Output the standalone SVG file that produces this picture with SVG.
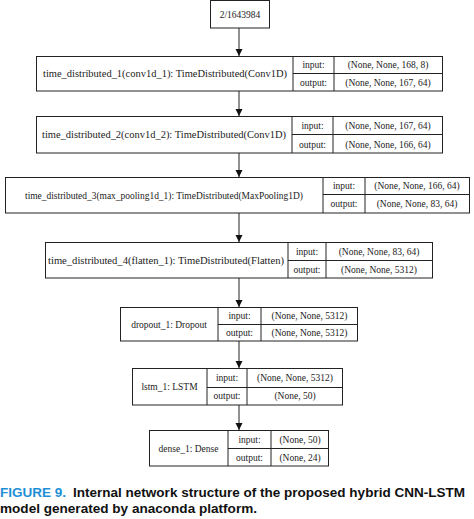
<svg xmlns="http://www.w3.org/2000/svg" width="474" height="519" viewBox="0 0 474 519">
<style>
.box{fill:#fff;stroke:#222;stroke-width:1}
.ln{stroke:#222;stroke-width:1;fill:none}
.t{font-family:"Liberation Serif","DejaVu Serif",serif;font-size:9.5px;fill:#222;text-anchor:middle}
.cap{font-family:"Liberation Sans","Open Sans",sans-serif;font-size:13.5px;font-weight:bold;fill:#111}
.blue{fill:#1e8fd5}
</style>
<defs>
<marker id="arr" markerWidth="8" markerHeight="8" refX="7" refY="4" orient="auto" markerUnits="userSpaceOnUse">
<path d="M0,0.5 L7,4 L0,7.5 Z" fill="#111"/>
</marker>
</defs>
<rect width="474" height="519" fill="#fff"/>
<g id="connectors">
<line class="ln" x1="239" y1="28" x2="239" y2="56" marker-end="url(#arr)"/>
<line class="ln" x1="239" y1="91" x2="239" y2="116" marker-end="url(#arr)"/>
<line class="ln" x1="239" y1="153" x2="239" y2="177" marker-end="url(#arr)"/>
<line class="ln" x1="239" y1="213" x2="239" y2="242" marker-end="url(#arr)"/>
<line class="ln" x1="239" y1="278" x2="239" y2="307" marker-end="url(#arr)"/>
<line class="ln" x1="239" y1="341" x2="239" y2="368" marker-end="url(#arr)"/>
<line class="ln" x1="239" y1="405" x2="239" y2="430" marker-end="url(#arr)"/>
</g>
<g id="input">
<rect class="box" x="210.5" y="0.5" width="59" height="27.5"/>
<text class="t" x="240" y="18">2/1643984</text>
</g>
<g id="td1">
<rect class="box" x="36.5" y="56.5" width="406" height="34.5"/>
<line class="ln" x1="293" y1="56.5" x2="293" y2="91"/>
<line class="ln" x1="334" y1="56.5" x2="334" y2="91"/>
<line class="ln" x1="293" y1="73.5" x2="442.5" y2="73.5"/>
<text class="t" x="165" y="77" textLength="244" lengthAdjust="spacingAndGlyphs">time_distributed_1(conv1d_1): TimeDistributed(Conv1D)</text>
<text class="t" x="313.5" y="68">input:</text>
<text class="t" x="313.5" y="86">output:</text>
<text class="t" x="388" y="68">(None, None, 168, 8)</text>
<text class="t" x="388" y="86">(None, None, 167, 64)</text>
</g>
<g id="td2">
<rect class="box" x="36.5" y="116.5" width="406" height="36.5"/>
<line class="ln" x1="292" y1="116.5" x2="292" y2="153"/>
<line class="ln" x1="333" y1="116.5" x2="333" y2="153"/>
<line class="ln" x1="292" y1="134.5" x2="442.5" y2="134.5"/>
<text class="t" x="164" y="138" textLength="244" lengthAdjust="spacingAndGlyphs">time_distributed_2(conv1d_2): TimeDistributed(Conv1D)</text>
<text class="t" x="312.5" y="129">input:</text>
<text class="t" x="312.5" y="148">output:</text>
<text class="t" x="388" y="129">(None, None, 167, 64)</text>
<text class="t" x="388" y="148">(None, None, 166, 64)</text>
</g>
<g id="td3">
<rect class="box" x="5.5" y="177.5" width="464" height="35.5"/>
<line class="ln" x1="323" y1="177.5" x2="323" y2="213"/>
<line class="ln" x1="365" y1="177.5" x2="365" y2="213"/>
<line class="ln" x1="323" y1="194.5" x2="469.5" y2="194.5"/>
<text class="t" x="164" y="199" textLength="278" lengthAdjust="spacingAndGlyphs">time_distributed_3(max_pooling1d_1): TimeDistributed(MaxPooling1D)</text>
<text class="t" x="344" y="189">input:</text>
<text class="t" x="344" y="207">output:</text>
<text class="t" x="417" y="189">(None, None, 166, 64)</text>
<text class="t" x="417" y="207">(None, None, 83, 64)</text>
</g>
<g id="td4">
<rect class="box" x="45.5" y="242.5" width="387" height="35.5"/>
<line class="ln" x1="288" y1="242.5" x2="288" y2="278"/>
<line class="ln" x1="326" y1="242.5" x2="326" y2="278"/>
<line class="ln" x1="288" y1="260.5" x2="432.5" y2="260.5"/>
<text class="t" x="166" y="264" textLength="236" lengthAdjust="spacingAndGlyphs">time_distributed_4(flatten_1): TimeDistributed(Flatten)</text>
<text class="t" x="307" y="255">input:</text>
<text class="t" x="307" y="273">output:</text>
<text class="t" x="379" y="255">(None, None, 83, 64)</text>
<text class="t" x="379" y="273">(None, None, 5312)</text>
</g>
<g id="dropout">
<rect class="box" x="120.5" y="307.5" width="237" height="33.5"/>
<line class="ln" x1="218" y1="307.5" x2="218" y2="341"/>
<line class="ln" x1="261" y1="307.5" x2="261" y2="341"/>
<line class="ln" x1="218" y1="324.5" x2="357.5" y2="324.5"/>
<text class="t" x="169" y="328">dropout_1: Dropout</text>
<text class="t" x="239.5" y="319">input:</text>
<text class="t" x="239.5" y="336">output:</text>
<text class="t" x="309.5" y="319">(None, None, 5312)</text>
<text class="t" x="309.5" y="336">(None, None, 5312)</text>
</g>
<g id="lstm">
<rect class="box" x="132.5" y="368.5" width="210" height="36.5"/>
<line class="ln" x1="207" y1="368.5" x2="207" y2="405"/>
<line class="ln" x1="247" y1="368.5" x2="247" y2="405"/>
<line class="ln" x1="207" y1="387.5" x2="342.5" y2="387.5"/>
<text class="t" x="169.5" y="390">lstm_1: LSTM</text>
<text class="t" x="227" y="381">input:</text>
<text class="t" x="227" y="399">output:</text>
<text class="t" x="295" y="381">(None, None, 5312)</text>
<text class="t" x="295" y="399">(None, 50)</text>
</g>
<g id="dense">
<rect class="box" x="149.5" y="430.5" width="179" height="35.5"/>
<line class="ln" x1="228" y1="430.5" x2="228" y2="466"/>
<line class="ln" x1="271" y1="430.5" x2="271" y2="466"/>
<line class="ln" x1="228" y1="448.5" x2="328.5" y2="448.5"/>
<text class="t" x="188.5" y="452">dense_1: Dense</text>
<text class="t" x="249.5" y="443">input:</text>
<text class="t" x="249.5" y="461">output:</text>
<text class="t" x="300" y="443">(None, 50)</text>
<text class="t" x="300" y="461">(None, 24)</text>
</g>
<g id="caption">
<text class="cap blue" x="0" y="497" textLength="66" lengthAdjust="spacingAndGlyphs">FIGURE 9.</text>
<text class="cap" x="73" y="497" textLength="392" lengthAdjust="spacingAndGlyphs">Internal network structure of the proposed hybrid CNN-LSTM</text>
<text class="cap" x="0" y="513" textLength="257" lengthAdjust="spacingAndGlyphs">model generated by anaconda platform.</text>
</g>
</svg>
